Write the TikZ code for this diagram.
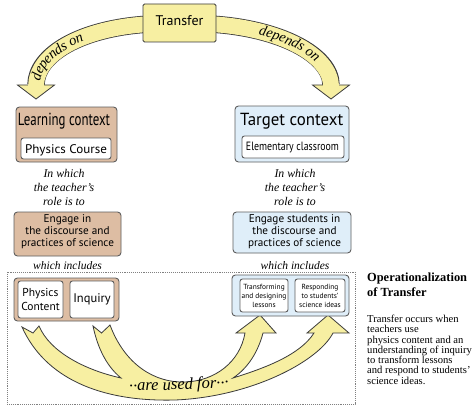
\documentclass[tikz,border=0pt]{standalone}
\usepackage{fontspec}
\usepackage{graphicx}
\setmainfont{Liberation Serif}
\setsansfont{PT Sans}
\usetikzlibrary{decorations.text}
\definecolor{ayellow}{HTML}{F7EFA2}
\definecolor{tanfill}{HTML}{DDBDA3}
\definecolor{bluefill}{HTML}{DFEEF9}
\definecolor{boxline}{HTML}{5E5E5E}
\definecolor{aline}{HTML}{3A3A3A}
\definecolor{dotline}{HTML}{808080}
\newcommand\fs[2]{\fontsize{#1}{#2}\selectfont}
\newcommand\fitw[2]{\resizebox{#1}{\height}{#2}}
\newcommand\dfont{\fontsize{14.5}{16}\selectfont\itshape}
\begin{document}
\begin{tikzpicture}[x=1pt,y=-1pt,
  panel/.style={draw=boxline, line width=0.9pt, rounded corners=3.5pt, inner sep=0pt},
  tanpanel/.style={panel, fill=tanfill},
  bluepanel/.style={panel, fill=bluefill},
  whitebox/.style={panel, fill=white, rounded corners=2.5pt},
  lbl/.style={inner sep=0pt, align=center, font=\sffamily},
  itnote/.style={inner sep=0pt, align=center, font=\itshape\fs{11.8}{14}},
  incl/.style={inner sep=0pt, anchor=base, font=\itshape\fs{11.5}{13}},
  yband/.style={line width=15.8pt, ayellow},
  kband/.style={line width=17.4pt, aline},
  yhead/.style={fill=ayellow, draw=aline, line width=0.8pt, line join=miter},
]
\useasboundingbox (0,0) rectangle (474,412);
\fill[white] (0,0) rectangle (474,412);

% top arch
\draw[kband] (150,24) .. controls (80,28) and (36,55) .. (36,85);
\draw[kband] (210,24) .. controls (280,28) and (331,55) .. (331,85);
\filldraw[yhead] (17.5,85) -- (36,99) -- (54.5,85) -- cycle;
\filldraw[yhead] (312.5,85) -- (331,99) -- (349.5,85) -- cycle;
\draw[yband, shorten >=-1.5pt] (150,24) .. controls (80,28) and (36,55) .. (36,85);
\draw[yband, shorten >=-1.5pt] (210,24) .. controls (280,28) and (331,55) .. (331,85);
\path[decorate, decoration={text along path, text={|\dfont|depends on}, text align={left indent=5pt}, raise=-3.8pt}] (36,85) .. controls (36,55) and (80,28) .. (150,24);
\path[decorate, decoration={text along path, text={|\dfont|depends on}, text align={left indent=50pt}, raise=-3.8pt}] (210,24) .. controls (280,28) and (331,55) .. (331,85);

\node[panel, fill=ayellow, draw=aline, rounded corners=1.5pt, minimum width=73pt, minimum height=38pt] (transfer) at (179.5,23) {};
\node[lbl, anchor=base, font=\sffamily\fs{14}{16}] (transfertxt) at (179.5,25.5) {Transfer};

% learning context
\node[tanpanel, minimum width=101pt, minimum height=55pt] (learn) at (66.5,134.5) {};
\node[lbl, anchor=base] (learnt) at (64,125.8) {\fitw{92pt}{\fs{17.5}{20}Learning context}};
\node[whitebox, minimum width=90pt, minimum height=21pt] (pcourse) at (66,148.5) {};
\node[lbl, anchor=base] (pcoursetxt) at (66,153.5) {\fitw{82pt}{\fs{12.5}{14}Physics Course}};

% target context
\node[bluepanel, minimum width=114pt, minimum height=56pt] (target) at (292,134) {};
\node[lbl, anchor=base] (targett) at (291.7,125) {\fitw{103pt}{\fs{17.5}{20}Target context}};
\node[whitebox, minimum width=102pt, minimum height=22pt] (elem) at (293,147) {};
\node[lbl, anchor=base] (elemtxt) at (292.5,150.5) {\fitw{93pt}{\fs{12}{14}Elementary classroom}};

% notes
\node[itnote] (noteL) at (64,187) {In which\\the teacher’s\\role is to};
\node[itnote] (noteR) at (295,187) {In which\\the teacher’s\\role is to};

% engage
\node[tanpanel, minimum width=107pt, minimum height=44pt] (engL) at (67.5,234) {};
\node[lbl, font=\sffamily\fs{11.2}{12}] (engLt) at (67.5,232) {Engage in\\the discourse and\\practices of science};
\node[bluepanel, minimum width=118pt, minimum height=41pt] (engR) at (292,232.5) {};
\node[lbl, font=\sffamily\fs{11.2}{12}] (engRt) at (294.5,232) {Engage students in\\the discourse and\\practices of science};

\node[incl] (inclL) at (67.5,269.5) {which includes};
\node[incl] (inclR) at (295,269.5) {which includes};

% dotted frame
\node[draw=dotline, densely dotted, line width=0.9pt, minimum width=348pt, minimum height=132pt, inner sep=0pt] (opbox) at (181,338) {};

% bottom arrows
\filldraw[yhead] (22,327) -- (33,333) -- (39,326)
 .. controls (50,352) and (85,370) .. (121,378)
 .. controls (105,365) and (97,345) .. (93,326)
 -- (101.5,333) -- (110,325)
 .. controls (125,365) and (155,383) .. (185,382)
 .. controls (215,381) and (240,362) .. (245,333)
 -- (236,333) -- (260,315) -- (276,333) -- (263,333)
 .. controls (258,352) and (248,368) .. (233,378)
 .. controls (265,368) and (300,355) .. (314,333)
 -- (307,333) -- (328,315) -- (349,333) -- (333,333)
 .. controls (318,362) and (250,397) .. (175,400)
 .. controls (100,402) and (45,378) .. (22,327) -- cycle;
\node[inner sep=0pt, anchor=base, rotate=2, font=\itshape\fs{16.5}{18}] (used) at (179,389.5) {··are used for···};

% containers
\node[tanpanel, minimum width=105pt, minimum height=43pt] (lcont) at (66.5,299.5) {};
\node[whitebox, lbl, minimum width=45pt, minimum height=37pt, font=\sffamily\fs{11.5}{14}] (pcontent) at (40.5,299.5) {Physics\\Content};
\node[whitebox, lbl, minimum width=44pt, minimum height=37pt, font=\sffamily\fs{12.5}{14}] (inquiry) at (92,299.5) {Inquiry};
\node[bluepanel, minimum width=117pt, minimum height=41pt] (rcont) at (290.5,295.5) {};
\node[whitebox, lbl, minimum width=48pt, minimum height=33pt, font=\sffamily\fs{7.4}{9}] (transf) at (264,295.5) {Transforming\\and designing\\lessons};
\node[whitebox, lbl, minimum width=50pt, minimum height=33pt, font=\sffamily\fs{7.4}{9}] (respond) at (320,295.5) {Responding\\to students’\\science ideas};

% side text
\node[anchor=north west, inner sep=0pt, align=left, font=\bfseries\fs{12.4}{15}] (optitle) at (367,272.6) {Operationalization\\of Transfer};
\node[anchor=north west, inner sep=0pt, align=left, font=\fs{10.6}{10.3}] (optext) at (367,314.8) {Transfer occurs when\\teachers use\\physics content and an\\understanding of inquiry\\to transform lessons\\and respond to students’\\science ideas.};
\end{tikzpicture}
\end{document}
